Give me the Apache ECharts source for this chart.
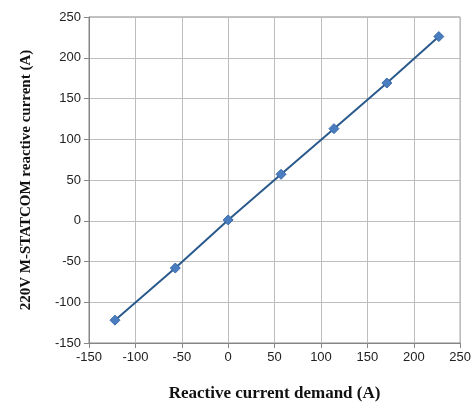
<!DOCTYPE html>
<html><head><meta charset="utf-8">
<script src="https://cdn.jsdelivr.net/npm/echarts@6/dist/echarts.min.js"></script>
<style>html,body{margin:0;background:#fff}#c{width:474px;height:411px}</style>
</head><body><div id="c"></div>
<script>
const demand = [-122, -57, 0, 57, 114, 171, 227]
const statcom = [-122, -58, 1, 57, 113, 169, 226]

const chart = echarts.init(document.getElementById('c'))
const axisCommon = {
  type: 'value', min: -150, max: 250, interval: 50,
  axisLine: { show: true, onZero: false, lineStyle: { color: '#868686' } },
  axisTick: { show: true, length: 5, lineStyle: { color: '#868686' } },
  splitLine: { show: true, lineStyle: { color: '#bdbdbd', width: 1 } },
  axisLabel: { color: '#222', fontFamily: 'Liberation Sans, Arial', fontSize: 13 },
  nameLocation: 'middle',
  nameTextStyle: { fontFamily: 'Liberation Serif', fontWeight: 'bold', fontSize: 17, color: '#111' }
}
chart.setOption({
  animation: false,
  grid: { left: 89, right: 13, top: 17, bottom: 68, show: true, borderColor: '#868686' },
  xAxis: { ...axisCommon, name: 'Reactive current demand (A)', nameGap: 42 },
  yAxis: { ...axisCommon, name: '220V M-STATCOM reactive current (A)', nameGap: 55,
    nameTextStyle: { ...axisCommon.nameTextStyle, fontSize: 15 } },
  series: [{
    type: 'line',
    data: demand.map((d, i) => [d, statcom[i]]),
    symbol: 'diamond', symbolSize: 10,
    lineStyle: { color: '#2a5a8c', width: 2 },
    itemStyle: { color: '#4a7cc0', borderColor: '#3a6aa8', borderWidth: 1 }
  }]
})
</script></body></html>
